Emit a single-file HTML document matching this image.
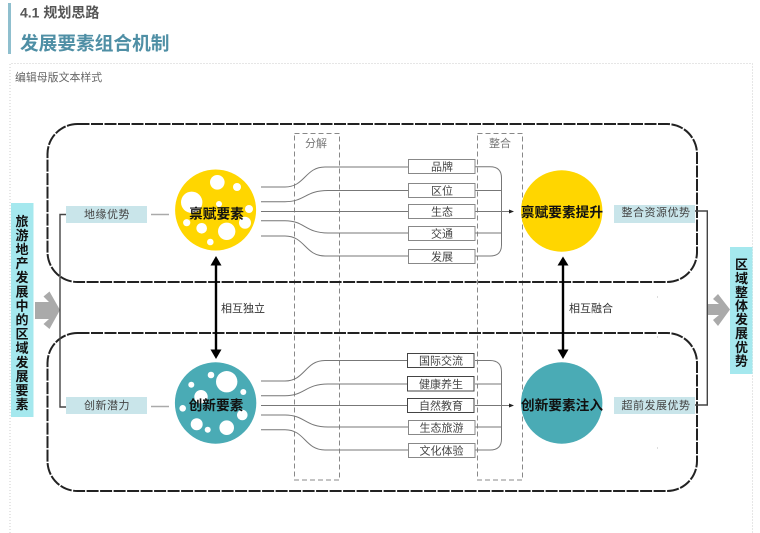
<!DOCTYPE html>
<html lang="zh"><head><meta charset="utf-8"><title>发展要素组合机制</title>
<style>
html,body{margin:0;padding:0;background:#fff;width:760px;height:533px;overflow:hidden}
svg{display:block}
text{font-family:"Liberation Sans","Noto Sans CJK SC",sans-serif}
.b{font-weight:700;fill:#111}
.m{text-anchor:middle}
.lb{font-size:11px;fill:#444;text-anchor:middle;letter-spacing:.5px}
.bx{font-size:11px;fill:#444;text-anchor:middle}
.ln{fill:none;stroke:#777;stroke-width:1}
.box{fill:#fff;stroke:#888;stroke-width:1}
.boxd{fill:#fff;stroke:#444;stroke-width:1}
.gd{stroke:#aaa;stroke-width:1.5}
.v{font-size:13px;font-weight:700;fill:#111;text-anchor:middle}
</style></head><body>
<svg width="760" height="533" viewBox="0 0 760 533" xmlns="http://www.w3.org/2000/svg">
<rect x="8" y="3" width="3" height="51" fill="#8fbfce"/>
<text x="20" y="17.500" font-size="14" font-weight="700" fill="#555">4.1 规划思路</text>
<text x="20" y="50" font-size="18.700" font-weight="700" fill="#4f8fa5">发展要素组合机制</text>
<path d="M10 533V63.500H752.500V533" fill="none" stroke="#ccc" stroke-width="1" stroke-dasharray="1 2"/>
<text x="15" y="81" font-size="10.900" fill="#666">编辑母版文本样式</text>

<rect x="294.500" y="133.500" width="45" height="346.500" fill="none" stroke="#888" stroke-width="1" stroke-dasharray="5 3"/>
<rect x="477.500" y="133.500" width="45" height="346.500" fill="none" stroke="#888" stroke-width="1" stroke-dasharray="5 3"/>
<text x="316" y="147" font-size="11" fill="#777" class="m">分解</text>
<text x="500" y="147" font-size="11" fill="#777" class="m">整合</text>

<rect x="47.500" y="124" width="649.500" height="158" rx="30" fill="none" stroke="#222" stroke-width="2" stroke-dasharray="12 1.500"/>
<rect x="47.500" y="333" width="649.500" height="158" rx="30" fill="none" stroke="#222" stroke-width="2" stroke-dasharray="12 1.500"/>

<!-- side boxes -->
<rect x="11" y="203" width="22.500" height="214" fill="#a5e8ee"/>
<text class="v" x="22" y="226">旅</text><text class="v" x="22" y="240">游</text><text class="v" x="22" y="254">地</text><text class="v" x="22" y="268">产</text><text class="v" x="22" y="282">发</text><text class="v" x="22" y="296.500">展</text><text class="v" x="22" y="310.500">中</text><text class="v" x="22" y="324.500">的</text><text class="v" x="22" y="338.500">区</text><text class="v" x="22" y="352.500">域</text><text class="v" x="22" y="367">发</text><text class="v" x="22" y="381">展</text><text class="v" x="22" y="395">要</text><text class="v" x="22" y="409">素</text>
<rect x="730" y="247" width="22.500" height="127" fill="#a5e8ee"/>
<text class="v" x="741.500" y="269">区</text><text class="v" x="741.500" y="283">域</text><text class="v" x="741.500" y="297">整</text><text class="v" x="741.500" y="310.500">体</text><text class="v" x="741.500" y="324">发</text><text class="v" x="741.500" y="338">展</text><text class="v" x="741.500" y="352">优</text><text class="v" x="741.500" y="365.500">势</text>

<polygon points="60,310 49.500,291.500 43.500,296.500 49,302 35,302 35,319 49,319 43.500,324 49.500,329" fill="#aaa"/>
<polygon points="730,309.500 718,294 713,299 719,304 707,304 707,315 719,315 713,320 718,326" fill="#aaa"/>

<path d="M70 214.500H60V407H70" fill="none" stroke="#444" stroke-width="1.400"/>
<path d="M695 211H707.300V405H695" fill="none" stroke="#444" stroke-width="1.400"/>

<!-- labels -->
<rect x="66" y="206" width="81" height="17" fill="#c9e5ea"/>
<text x="107" y="218" class="lb">地缘优势</text>
<rect x="66" y="397" width="81" height="17" fill="#c9e5ea"/>
<text x="107" y="409" class="lb">创新潜力</text>
<rect x="614" y="205" width="81" height="18" fill="#c9e5ea"/>
<text x="656" y="216" class="lb">整合资源优势</text>
<rect x="614" y="397" width="81" height="17" fill="#c9e5ea"/>
<text x="656" y="409" class="lb">超前发展优势</text>
<path d="M151 214.500H169M151 406.500H169" class="gd" fill="none"/>
<path d="M657 297h1M657 337h1M657 448h1" stroke="#bbb" stroke-width="1" fill="none"/>

<!-- circles -->
<circle cx="215.600" cy="210" r="40.500" fill="#ffd600"/>
<g fill="#fff">
<circle cx="217.300" cy="182.300" r="7.300"/><circle cx="237" cy="187" r="4"/><circle cx="191.700" cy="202.300" r="10.700"/><circle cx="219" cy="204" r="3"/><circle cx="249" cy="209" r="4"/><circle cx="245" cy="222.700" r="6"/><circle cx="186.700" cy="222.700" r="3.600"/><circle cx="201.700" cy="228.300" r="5.300"/><circle cx="226.700" cy="231.300" r="8.700"/><circle cx="210.300" cy="242" r="3.300"/>
</g>
<circle cx="215.600" cy="403" r="40.700" fill="#4aabb5"/>
<g fill="#fff">
<circle cx="226.700" cy="381.700" r="10.700"/><circle cx="211" cy="375" r="3.300"/><circle cx="191.300" cy="384.700" r="3"/><circle cx="243.300" cy="392" r="3"/><circle cx="201" cy="396.700" r="6.700"/><circle cx="182.700" cy="408.300" r="3.300"/><circle cx="242.300" cy="415" r="5.300"/><circle cx="196.700" cy="424.300" r="6"/><circle cx="207.700" cy="429.700" r="3"/><circle cx="226.700" cy="427.700" r="7.300"/>
</g>
<circle cx="561.700" cy="211" r="40.700" fill="#ffd600"/>
<circle cx="561.700" cy="403" r="40.700" fill="#4aabb5"/>
<text x="216.500" y="218.500" font-size="13.700" class="b m">禀赋要素</text>
<text x="216" y="410" font-size="13.700" class="b m">创新要素</text>
<text x="562" y="217" font-size="13.700" class="b m">禀赋要素提升</text>
<text x="562" y="410" font-size="13.700" class="b m">创新要素注入</text>

<!-- double arrows -->
<path d="M216 262V353M563 262V353" stroke="#000" stroke-width="2.400" fill="none"/>
<polygon points="216,256 210.500,265.500 221.500,265.500" fill="#000"/>
<polygon points="216,359 210.500,349.500 221.500,349.500" fill="#000"/>
<polygon points="563,256.500 557.500,265.500 568.500,265.500" fill="#000"/>
<polygon points="563,359 557.500,349.500 568.500,349.500" fill="#000"/>
<text x="221" y="312" font-size="11" fill="#333">相互独立</text>
<text x="569" y="312" font-size="11" fill="#333">相互融合</text>

<!-- flow lines -->
<g class="ln">
<path class="ln" d="M261 187H285C305 187 305 167 325 167H408"/>
<path class="ln" d="M261 201.700H285C305 201.700 305 190.500 328 190.500H408"/>
<path class="ln" d="M261 211.500H408"/>
<path class="ln" d="M261 220.700H285C305 220.700 305 233 328 233H408"/>
<path class="ln" d="M261 236H285C305 236 305 256 325 256H408"/>
<path class="ln" d="M475 166.700H490Q501.500 166.700 501.500 178V245Q501.500 256 490 256H475"/>
<path class="ln" d="M475 190.500H501.500M475 233H501.500M475 211.500H511"/>
<path class="ln" d="M261 381H285C305 381 305 360.500 325 360.500H408"/>
<path class="ln" d="M261 395.700H285C305 395.700 305 384 328 384H408"/>
<path class="ln" d="M261 405.500H408"/>
<path class="ln" d="M261 415H285C305 415 305 427 328 427H408"/>
<path class="ln" d="M261 429.700H285C305 429.700 305 450 325 450H408"/>
<path class="ln" d="M475 360.500H490Q501.500 360.500 501.500 372V439Q501.500 450 490 450H475"/>
<path class="ln" d="M475 384H501.500M475 427H501.500M475 405.500H511"/>
</g>
<polygon points="514,211.500 509,209.500 509,213.500" fill="#222"/>
<polygon points="514,405.500 509,403.500 509,407.500" fill="#222"/>

<!-- boxes -->
<rect class="box" x="408.500" y="159.500" width="66.500" height="14"/><text class="bx" x="442" y="170.500">品牌</text>
<rect class="box" x="408.500" y="183.500" width="66.500" height="14"/><text class="bx" x="442" y="194.500">区位</text>
<rect class="box" x="408.500" y="204.500" width="66.500" height="14"/><text class="bx" x="442" y="215.500">生态</text>
<rect class="box" x="408.500" y="226.500" width="66.500" height="14"/><text class="bx" x="442" y="237.500">交通</text>
<rect class="box" x="408.500" y="249.500" width="66.500" height="14"/><text class="bx" x="442" y="260.500">发展</text>
<rect class="boxd" x="407.500" y="353.500" width="66.500" height="14"/><text class="bx" x="441" y="364.500">国际交流</text>
<rect class="boxd" x="407.500" y="376.500" width="66.500" height="14.500"/><text class="bx" x="441" y="388">健康养生</text>
<rect class="boxd" x="407.500" y="398.500" width="66.500" height="14"/><text class="bx" x="441" y="409.500">自然教育</text>
<rect class="box" x="408.500" y="420.500" width="66.500" height="14"/><text class="bx" x="441.500" y="431.500">生态旅游</text>
<rect class="box" x="408.500" y="443.500" width="66.500" height="14"/><text class="bx" x="441.500" y="454.500">文化体验</text>
</svg>
</body></html>
